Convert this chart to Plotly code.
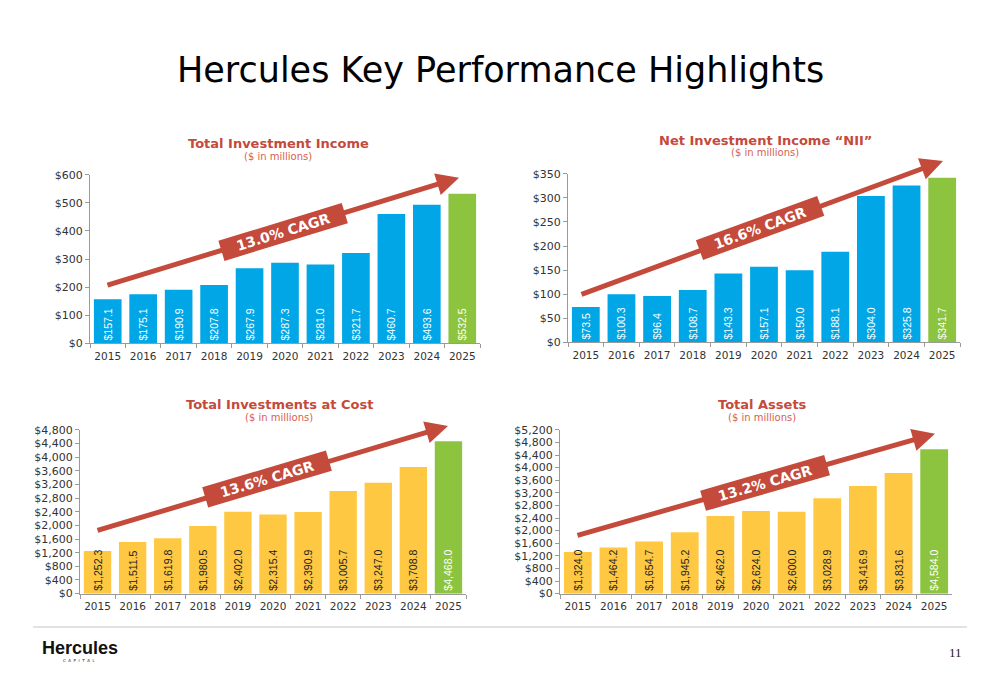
import plotly.graph_objects as go

years = ["2015", "2016", "2017", "2018", "2019", "2020", "2021", "2022", "2023", "2024", "2025"]
total_investment_income = [157.1, 175.1, 190.9, 207.8, 267.9, 287.3, 281.0, 321.7, 460.7, 493.6, 532.5]
net_investment_income = [73.5, 100.3, 96.4, 108.7, 143.3, 157.1, 150.0, 188.1, 304.0, 325.8, 341.7]
investments_at_cost = [1252.3, 1511.5, 1619.8, 1980.5, 2402.0, 2315.4, 2390.9, 3005.7, 3247.0, 3708.8, 4468.0]
total_assets = [1324.0, 1464.2, 1654.7, 1945.2, 2462.0, 2624.0, 2600.0, 3028.9, 3416.9, 3831.6, 4584.0]
titles = ["Total Investment Income", "Net Investment Income \u201cNII\u201d", "Total Investments at Cost", "Total Assets"]
cagr_labels = ["13.0% CAGR", "16.6% CAGR", "13.6% CAGR", "13.2% CAGR"]

W, H = 1000, 685
BLUE = "#00A6E6"
YELLOW = "#FEC843"
GREEN = "#8CC43F"
RED = "#C44A3B"
SUB = "#D8604F"
FONT = "DejaVu Sans"

def px(x):
    return x / W

def py(y):
    return 1 - y / H

panels = [
    dict(data=total_investment_income, x0=90, x1=480, yb=344, yt=172, ymax=600, dtick=100, base=BLUE, txt="white",
         title=(278, 140, 153), arrow=(106, 283, 459, 175), box=(283, 230, -17)),
    dict(data=net_investment_income, x0=568, x1=960, yb=343, yt=171, ymax=350, dtick=50, base=BLUE, txt="white",
         title=(765, 137, 149), arrow=(580, 292, 943, 158), box=(760, 226, -20)),
    dict(data=investments_at_cost, x0=80, x1=466, yb=599, yt=432, ymax=4800, dtick=400, base=YELLOW, txt="#222222",
         title=(279, 406, 419), arrow=(96, 533, 448, 428), box=(267, 482, -16.5)),
    dict(data=total_assets, x0=560, x1=952, yb=599, yt=432, ymax=5200, dtick=400, base=YELLOW, txt="#222222",
         title=(762, 406, 419), arrow=(576, 538, 935, 436), box=(765, 486, -16)),
]

fig = go.Figure()
annotations = []
shapes = []

def ann(**kw):
    d = dict(xref="paper", yref="paper", xanchor="center", yanchor="middle", showarrow=False)
    d.update(kw)
    annotations.append(d)

for i, p in enumerate(panels):
    n = i + 1
    xa = "x" if n == 1 else f"x{n}"
    ya = "y" if n == 1 else f"y{n}"
    colors = [p["base"]] * (len(years) - 1) + [GREEN]
    tcolors = [p["txt"]] * (len(years) - 1) + ["white"]
    fig.add_trace(go.Bar(
        x=years, y=p["data"], xaxis=xa, yaxis=ya,
        marker=dict(color=colors, line=dict(width=0)),
        texttemplate="$%{y:,.1f}", textposition="inside", insidetextanchor="start",
        textangle=-90, constraintext="none", cliponaxis=False,
        textfont=dict(family="Liberation Sans", size=10.5, color=tcolors),
        showlegend=False, hoverinfo="skip",
    ))
    axis_common = dict(showgrid=False, zeroline=False, linecolor="#9A9A9A", linewidth=1, showline=True,
                       ticks="outside", ticklen=4, tickcolor="#9A9A9A")
    fig.layout[("xaxis" if n == 1 else f"xaxis{n}")] = dict(
        domain=[px(p["x0"]), px(p["x1"])], anchor=ya, tickson="boundaries", tickangle=0,
        ticklabelstandoff=3, tickfont=dict(family=FONT, size=10.5, color="#333333"), **axis_common)
    fig.layout[("yaxis" if n == 1 else f"yaxis{n}")] = dict(
        domain=[py(p["yb"]), py(p["yt"])], anchor=xa, range=[0, p["ymax"]], dtick=p["dtick"],
        tickprefix="$", tickformat=",", tickfont=dict(family=FONT, size=11, color="#333333"), **axis_common)
    tx, ty1, ty2 = p["title"]
    ann(x=px(tx), y=py(ty1), text=f"<b>{titles[i]}</b>", font=dict(family=FONT, size=13, color=RED))
    ann(x=px(tx), y=py(ty2), text="($ in millions)", font=dict(family=FONT, size=10, color=SUB))
    ax0, ay0, ax1, ay1 = p["arrow"]
    annotations.append(dict(x=px(ax1), y=py(ay1), xref="paper", yref="paper", text="",
                            showarrow=True, arrowhead=2, arrowsize=0.9, arrowwidth=5, arrowcolor=RED,
                            ax=ax0 - ax1, ay=ay0 - ay1, axref="pixel", ayref="pixel", standoff=0))
    bx, by, ang = p["box"]
    ann(x=px(bx), y=py(by), text=f"<b>{cagr_labels[i]}</b>", textangle=ang, bgcolor=RED,
        width=124, height=16, borderpad=2, font=dict(family=FONT, size=14, color="white"))

ann(x=0.5, y=py(65), text="Hercules Key Performance Highlights", font=dict(family=FONT, size=35, color="black"))
shapes.append(dict(type="line", xref="paper", yref="paper", x0=px(33), x1=px(967), y0=py(633), y1=py(633),
                   line=dict(color="#D9D9D9", width=1.5)))
ann(x=px(40), y=py(654), xanchor="left", text="<b>Hercules</b>",
    font=dict(family="Liberation Sans Narrow, Liberation Sans", size=18, color="#111111"))
ann(x=px(79), y=py(667), text="C  A  P  I  T  A  L", font=dict(family=FONT, size=4, color="#222222"))
ann(x=px(955), y=py(659), text="11", font=dict(family="Liberation Serif", size=13, color="#222222"))

fig.update_layout(width=W, height=H, margin=dict(l=0, r=0, t=0, b=0), paper_bgcolor="white",
                  plot_bgcolor="rgba(0,0,0,0)", bargap=0.22, annotations=annotations, shapes=shapes)
fig.write_html("out.html")
